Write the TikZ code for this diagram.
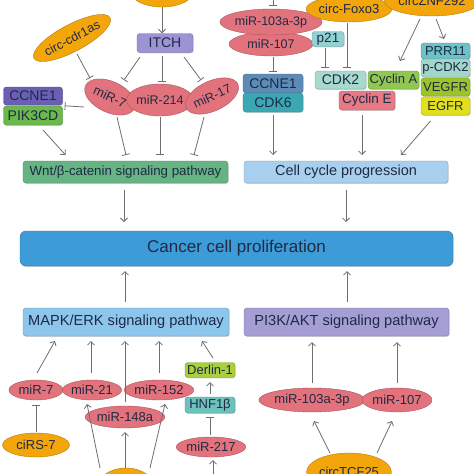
\documentclass[tikz,border=0pt]{standalone}
\usepackage{fontspec}
\setmainfont{Liberation Sans}
\usetikzlibrary{shapes.geometric,arrows.meta,calc,shadows}
\definecolor{txt}{HTML}{1F2A44}
\definecolor{linegray}{HTML}{6E6E6E}
\definecolor{orangeF}{HTML}{F2A60C}
\definecolor{pinkF}{HTML}{E2737C}
\definecolor{itchC}{HTML}{9C93D4}
\definecolor{ccneLC}{HTML}{6B5FB5}
\definecolor{pikC}{HTML}{6DB84D}
\definecolor{wntC}{HTML}{66B483}
\definecolor{cellC}{HTML}{A9CFEF}
\definecolor{cancerC}{HTML}{3D9BD8}
\definecolor{mapkC}{HTML}{8DC6EC}
\definecolor{pikaktC}{HTML}{A49ED4}
\definecolor{derlinC}{HTML}{A9CF3F}
\definecolor{hnfC}{HTML}{6CC2BC}
\definecolor{ccneRC}{HTML}{5C8CB5}
\definecolor{cdksixC}{HTML}{3AA8B3}
\definecolor{ptwoC}{HTML}{93D2D3}
\definecolor{cdktwoC}{HTML}{A8D9CE}
\definecolor{cycAC}{HTML}{8FC750}
\definecolor{cycEC}{HTML}{E77A84}
\definecolor{prrC}{HTML}{6BC2C7}
\definecolor{pcdkC}{HTML}{A3D6CA}
\definecolor{vegfrC}{HTML}{9DC32A}
\definecolor{egfrC}{HTML}{E2E01E}
\tikzset{
  fsz/.style={font=\fontsize{#1}{#1}\selectfont},
  bx/.style={rectangle, rounded corners=3pt, draw=#1!75!black, fill=#1, text=txt,
    inner sep=0pt, line width=0.4pt,
    drop shadow={shadow xshift=0.7pt, shadow yshift=-0.9pt, opacity=0.35}},
  el/.style={ellipse, draw=#1!75!black, fill=#1, text=txt, inner sep=0pt, line width=0.4pt},
  arr/.style={draw=linegray, line width=0.8pt, -{Straight Barb[length=3.5pt,width=7pt]}},
  inh/.style={draw=linegray, line width=0.8pt, -{Bar[width=8pt,line width=0.8pt]}},
}
\begin{document}
\begin{tikzpicture}[x=1pt,y=-1pt]
\useasboundingbox (0,0) rectangle (474,474);
\clip (0,0) rectangle (474,474);
\fill[white] (0,0) rectangle (474,474);

% ---------- top left ----------
\node[el=orangeF, minimum width=62pt, minimum height=30pt] (topA) at (162,-8) {};
\node[bx=itchC, minimum width=56pt, minimum height=19pt, fsz=14] (itch) at (165,43) {ITCH};
\node[el=orangeF, minimum width=68pt, minimum height=27pt, rotate=28, fsz=12.5] (cdr) at (72,38) {circ-cdr1as};
\node[el=pinkF, minimum width=54pt, minimum height=31pt, rotate=-25, fsz=13] (m7a) at (110,97) {miR-7};
\node[el=pinkF, minimum width=49pt, minimum height=32pt, fsz=12.5] (m214) at (160,100) {miR-214};
\node[el=pinkF, minimum width=52pt, minimum height=30pt, rotate=25, fsz=12.5] (m17) at (212,96) {miR-17};
\node[bx=ccneLC, minimum width=59pt, minimum height=18pt, fsz=14] (ccneL) at (33,96) {CCNE1};
\node[bx=pikC, minimum width=59pt, minimum height=19pt, fsz=14] (pik) at (33,115.5) {PIK3CD};

\node[bx=wntC, minimum width=205pt, minimum height=22pt, fsz=13.3] (wnt) at (125.5,172) {Wnt/β-catenin signaling pathway};
\node[bx=cellC, minimum width=204pt, minimum height=22pt, fsz=14.5] (cellc) at (346,172) {Cell cycle progression};
\node[bx=cancerC, rounded corners=6pt, minimum width=433pt, minimum height=35pt, fsz=17] (cancer) at (236.5,248.5) {Cancer cell proliferation};
\node[bx=mapkC, minimum width=206pt, minimum height=28pt, fsz=14.6] (mapk) at (126,322) {MAPK/ERK signaling pathway};
\node[bx=pikaktC, minimum width=205pt, minimum height=28pt, fsz=14.6] (pi3k) at (346.5,322) {PI3K/AKT signaling pathway};

% ---------- top right ----------
\coordinate (topB) at (273,-10);
\node[el=pinkF, minimum width=84pt, minimum height=24pt, fsz=12.5] (m107t) at (271,44) {miR-107};
\node[el=pinkF, minimum width=86pt, minimum height=26pt, fsz=12.5] (m103t) at (271,22) {miR-103a-3p};
\node[bx=ptwoC, minimum width=32pt, minimum height=15pt, fsz=13.5] (p21) at (328,39) {p21};
\node[el=orangeF, minimum width=68pt, minimum height=26pt, fsz=13] (foxo) at (349,9) {circ-Foxo3};
\node[el=orangeF, minimum width=86pt, minimum height=30pt, fsz=13] (znf) at (432,1) {circZNF292};
\node[bx=ccneRC, minimum width=60pt, minimum height=19pt, fsz=14] (ccneR) at (273,83.5) {CCNE1};
\node[bx=cdksixC, minimum width=60pt, minimum height=19pt, fsz=14] (cdk6) at (273,102.5) {CDK6};
\node[bx=cdktwoC, minimum width=51pt, minimum height=18pt, fsz=14] (cdk2) at (340.5,80) {CDK2};
\node[bx=cycAC, minimum width=51pt, minimum height=18pt, fsz=13] (cycA) at (393.5,80) {Cyclin A};
\node[bx=cycEC, minimum width=56pt, minimum height=19pt, fsz=13.5] (cycE) at (367,100.5) {Cyclin E};
\node[bx=prrC, minimum width=49pt, minimum height=16pt, fsz=13] (prr) at (445.5,51) {PRR11};
\node[bx=pcdkC, minimum width=49pt, minimum height=18pt, fsz=13] (pcdk) at (445.5,68) {p-CDK2};
\node[bx=vegfrC, minimum width=49pt, minimum height=18pt, fsz=13] (vegfr) at (445.5,87) {VEGFR};
\node[bx=egfrC, minimum width=49pt, minimum height=18pt, fsz=13] (egfr) at (445.5,106) {EGFR};

% ---------- bottom ----------
\node[el=pinkF, minimum width=54pt, minimum height=20pt, fsz=13] (bm7) at (36,390) {miR-7};
\node[el=pinkF, minimum width=52pt, minimum height=20pt, fsz=13] (bm21) at (92,390) {miR-21};
\node[el=pinkF, minimum width=52pt, minimum height=20pt, fsz=13] (bm152) at (159,390) {miR-152};
\node[el=pinkF, minimum width=58pt, minimum height=22pt, fsz=13] (bm148) at (125,417) {miR-148a};
\node[el=orangeF, minimum width=67pt, minimum height=24pt, fsz=13] (cirs) at (36,445) {ciRS-7};
\node[bx=derlinC, minimum width=50pt, minimum height=15pt, fsz=13] (derlin) at (210,370) {Derlin-1};
\node[bx=hnfC, minimum width=50pt, minimum height=16pt, fsz=13] (hnf) at (210,405) {HNF1β};
\node[el=pinkF, minimum width=52pt, minimum height=20pt, fsz=13] (bm217) at (211,447) {miR-217};
\node[el=orangeF, minimum width=60pt, minimum height=44pt] (botA) at (126,490) {};
\coordinate (bot217) at (213,490);
\node[el=pinkF, minimum width=80pt, minimum height=24pt, fsz=13] (bm103) at (312,400) {miR-103a-3p};
\node[el=pinkF, minimum width=70pt, minimum height=24pt, fsz=13] (bm107) at (397,400) {miR-107};
\node[el=orangeF, minimum width=74pt, minimum height=38pt, fsz=13] (tcf) at (349,472) {circTCF25};

% ---------- connectors: top left ----------
\draw[arr] (topA.south) -- (topA.south |- itch.north);
\draw[inh] ($(cdr)+(5,16)$) -- ($(m7a)+(-20,-19)$);
\draw[inh] ($(itch)+(-25,14)$) -- ($(m7a)+(14,-17)$);
\draw[inh] ($(itch)+(-3,13)$) -- ($(m214)+(2,-18)$);
\draw[inh] ($(itch)+(19,14)$) -- ($(m17)+(-11,-16)$);
\draw[inh] ($(m7a)+(-26,10)$) -- ($(pik.north east)+(2,0)$);
\draw[arr] ($(pik)+(10,14.5)$) -- ($(wnt)+(-60,-17)$);
\draw[inh] ($(m7a)+(7,20)$) -- ($(wnt)+(0.5,-17)$);
\draw[inh] ($(m214)+(0,17)$) -- ($(wnt)+(34.5,-17)$);
\draw[inh] ($(m17)+(-8,21)$) -- ($(wnt)+(68.5,-17)$);

% ---------- connectors: top right ----------
\draw[inh] (topB) -- ($(m103t)+(2,-16)$);
\draw[inh] ($(m107t)+(2,13)$) -- ($(ccneR.north)+(0,-2)$);
\draw[inh] ($(p21)+(-3,9)$) -- ($(cdk2)+(-15.5,-12)$);
\draw[inh] ($(foxo)+(-2,14)$) -- ($(cdk2)+(6.5,-12)$);
\draw[arr] ($(znf)+(-12,18)$) -- ($(cycA)+(6.5,-19)$);
\draw[arr] ($(znf)+(4,18)$) -- ($(prr)+(-1.5,-12)$);
\draw[arr] ($(cdk6.south)+(0,3)$) -- ($(cellc)+(-73,-17)$);
\draw[arr] ($(cycE.south)+(-5,5)$) -- ($(cellc)+(16,-17)$);
\draw[arr] ($(egfr)+(-15,15)$) -- ($(cellc)+(55,-17)$);

% ---------- connectors: middle ----------
\draw[arr] ($(wnt.south)+(-1.5,7)$) -- ($(cancer)+(-112.5,-26.5)$);
\draw[arr] ($(cellc.south)+(0,7)$) -- ($(cancer)+(109.5,-26.5)$);
\draw[arr] ($(mapk.north)+(-1,-6)$) -- ($(cancer)+(-111.5,22.5)$);
\draw[arr] ($(pi3k.north)+(0.5,-6)$) -- ($(cancer)+(110.5,22.5)$);

% ---------- connectors: bottom ----------
\draw[inh] ($(cirs)+(0,-13)$) -- ($(bm7)+(0,15)$);
\draw[arr] ($(bm7)+(1,-17)$) -- ($(mapk)+(-71,19)$);
\draw[arr] ($(bm21)+(-1,-17)$) -- ($(mapk)+(-35,19)$);
\draw[arr] ($(bm148)+(0,-15)$) -- ($(mapk)+(-1,19)$);
\draw[arr] ($(bm152)+(0,-17)$) -- ($(mapk)+(33,19)$);
\draw[arr] ($(derlin)+(3,-12)$) -- ($(mapk)+(76,19)$);
\draw[arr] ($(hnf)+(0,-11)$) -- ($(derlin)+(0,12)$);
\draw[inh] ($(bm217)+(-1,-12)$) -- ($(hnf)+(0,12)$);
\draw[arr] ($(botA)+(-26,-22)$) -- ($(bm21)+(-5,14)$);
\draw[arr] ($(botA)+(-1,-22)$) -- ($(bm148)+(0,15)$);
\draw[arr] ($(botA)+(24,-22)$) -- ($(bm152)+(6,14)$);
\draw[arr] (bot217) -- ($(bm217)+(2,13)$);
\draw[arr] ($(tcf)+(-19,-19)$) -- ($(bm103)+(2,21)$);
\draw[arr] ($(tcf)+(28,-19)$) -- ($(bm107)+(-5,21)$);
\draw[arr] ($(bm103)+(0,-17)$) -- ($(pi3k)+(-34.5,20)$);
\draw[arr] ($(bm107)+(0,-17)$) -- ($(pi3k)+(50.5,20)$);
\end{tikzpicture}
\end{document}
